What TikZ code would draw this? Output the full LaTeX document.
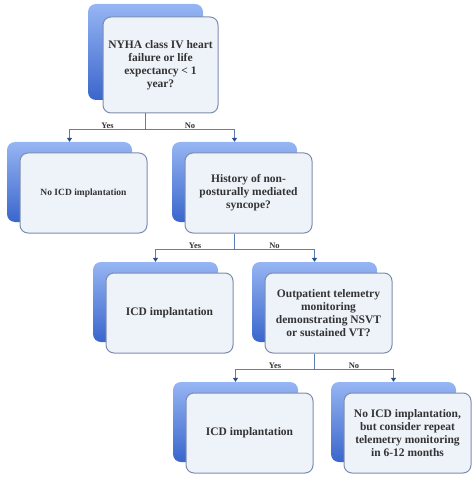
\documentclass[tikz,border=0pt]{standalone}
\usepackage{fontspec}
\setmainfont{Liberation Serif}
\usetikzlibrary{arrows.meta,calc}
\definecolor{backtop}{HTML}{96B5F3}
\definecolor{backbot}{HTML}{3A66CC}
\definecolor{frontfill}{HTML}{EEF2F9}
\definecolor{frontdraw}{HTML}{7D8CB0}
\definecolor{linecol}{HTML}{5E7DB5}
\definecolor{tipcol}{HTML}{2A4B8C}
\definecolor{txt}{HTML}{333333}
\begin{document}
\begin{tikzpicture}[x=1pt,y=-1pt,
 backbox/.style={rounded corners=8pt, top color=backtop, bottom color=backbot, draw=none, minimum width=125pt, minimum height=80pt, inner sep=0pt},
 frontbox/.style={rounded corners=8pt, fill=frontfill, draw=frontdraw, line width=1pt, minimum width=127pt, minimum height=80pt, align=center, font=\fontsize{11.5}{13}\selectfont\bfseries, text=txt, inner sep=2pt},
 conn/.style={draw=linecol, line width=1.2pt},
 arr/.style={conn, -{Triangle[length=4pt,width=5pt,fill=tipcol,color=tipcol]}},
 lbl/.style={font=\fontsize{8.5}{9}\selectfont\bfseries, text=txt, inner sep=1pt, anchor=south}]
\useasboundingbox (0,0) rectangle (474,478);
% back boxes
\node[backbox, minimum width=115pt, minimum height=96pt] (b1) at (145.5,52) {};
\node[backbox] (b2) at (69.5,182) {};
\node[backbox] (b3) at (234.5,182) {};
\node[backbox] (b4) at (155.5,302) {};
\node[backbox] (b5) at (314.5,302) {};
\node[backbox] (b6) at (235.5,422) {};
\node[backbox] (b7) at (393.5,422) {};
% front boxes
\node[frontbox, minimum width=115pt, minimum height=96pt] (f1) at (160.5,65) {NYHA class IV heart\\failure or life\\expectancy {\textless} 1\\year?};
\node[frontbox, font=\fontsize{9.5}{11}\selectfont\bfseries] (f2) at (83.5,193) {No ICD implantation};
\node[frontbox] (f3) at (248.5,193) {History of non-\\posturally mediated\\syncope?};
\node[frontbox] (f4) at (169.5,313) {ICD implantation};
\node[frontbox] (f5) at (328.5,313) {Outpatient telemetry\\monitoring\\demonstrating NSVT\\or sustained VT?};
\node[frontbox] (f6) at (249.5,433) {ICD implantation};
\node[frontbox] (f7) at (407.5,433) {No ICD implantation,\\but consider repeat\\telemetry monitoring\\in 6-12 months};
% connectors
\coordinate (s1) at (b1.center |- f1.south);
\coordinate (j1) at ($(s1)+(0,16)$);
\draw[conn] (s1) -- (j1);
\draw[arr] (j1) -| (b2.north);
\draw[arr] (j1) -| (b3.north);
\node[lbl] at ($(j1)!0.5!(j1 -| b2.north)$) {Yes};
\node[lbl] at ($(j1)!0.5!(j1 -| b3.north)$) {No};
\coordinate (s3) at (b3.center |- f3.south);
\coordinate (j3) at ($(s3)+(0,16)$);
\draw[conn] (s3) -- (j3);
\draw[arr] (j3) -| (b4.north);
\draw[arr] (j3) -| (b5.north);
\node[lbl] at ($(j3)!0.5!(j3 -| b4.north)$) {Yes};
\node[lbl] at ($(j3)!0.5!(j3 -| b5.north)$) {No};
\coordinate (s5) at (b5.center |- f5.south);
\coordinate (j5) at ($(s5)+(0,16)$);
\draw[conn] (s5) -- (j5);
\draw[arr] (j5) -| (b6.north);
\draw[arr] (j5) -| (b7.north);
\node[lbl] at ($(j5)!0.5!(j5 -| b6.north)$) {Yes};
\node[lbl] at ($(j5)!0.5!(j5 -| b7.north)$) {No};
\end{tikzpicture}
\end{document}
